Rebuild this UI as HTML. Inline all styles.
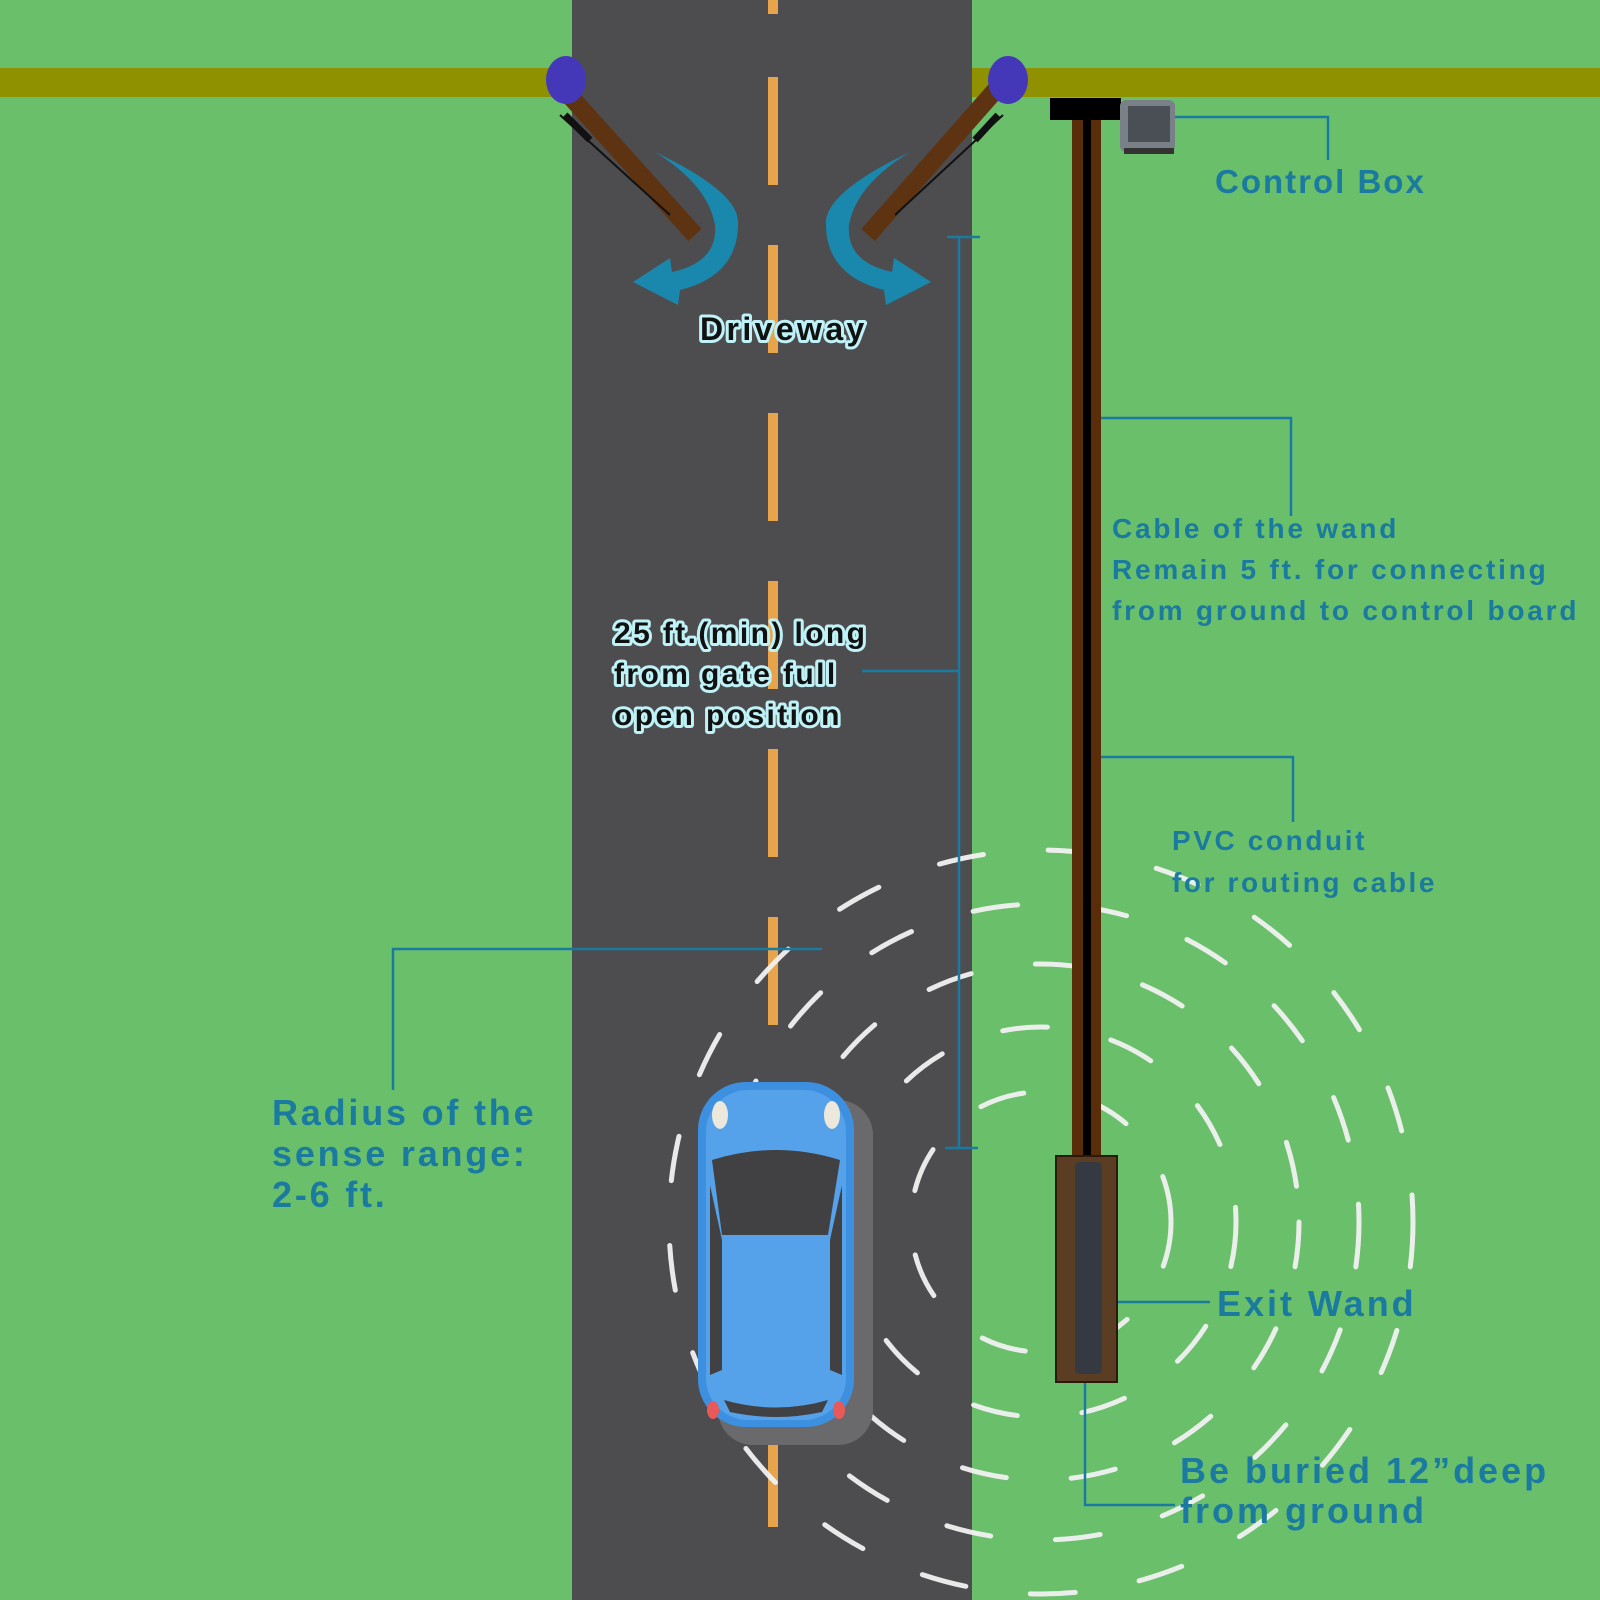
<!DOCTYPE html>
<html><head><meta charset="utf-8"><style>
html,body{margin:0;padding:0;width:1600px;height:1600px;overflow:hidden;background:#6abf6b}
svg{display:block}
text{font-family:"Liberation Sans",sans-serif;font-weight:bold}
</style></head><body>
<svg width="1600" height="1600" viewBox="0 0 1600 1600" xmlns="http://www.w3.org/2000/svg">
<rect width="1600" height="1600" fill="#6abf6b"/>
<rect x="572" y="0" width="400" height="1600" fill="#4d4d4f"/>
<rect x="0" y="68" width="572" height="29" fill="#8f9100"/>
<rect x="972" y="68" width="628" height="29" fill="#8f9100"/>
<g fill="#e8a44a">
<rect x="768" y="0" width="10" height="14"/>
<rect x="768" y="77" width="10" height="108"/>
<rect x="768" y="245" width="10" height="108"/>
<rect x="768" y="413" width="10" height="108"/>
<rect x="768" y="581" width="10" height="108"/>
<rect x="768" y="749" width="10" height="108"/>
<rect x="768" y="917" width="10" height="108"/>
<rect x="768" y="1085" width="10" height="108"/>
<rect x="768" y="1419" width="10" height="108"/>
</g>
<!-- sense rings -->
<g fill="none" stroke="#f2f2f2" stroke-width="5" stroke-linecap="round" stroke-dasharray="45 65" opacity="0.95">
<circle cx="1041" cy="1222" r="130"/>
<circle cx="1041" cy="1222" r="195"/>
<circle cx="1041" cy="1222" r="258"/>
<circle cx="1041" cy="1222" r="318"/>
<circle cx="1041" cy="1222" r="372"/>
</g>
<!-- gates -->
<line x1="560" y1="85" x2="695" y2="235" stroke="#5e3311" stroke-width="18"/>
<line x1="1000" y1="85" x2="868" y2="235" stroke="#5e3311" stroke-width="18"/>
<line x1="560" y1="115" x2="670" y2="215" stroke="#111" stroke-width="2"/>
<line x1="565" y1="115" x2="590" y2="140" stroke="#111" stroke-width="7"/>
<line x1="1003" y1="115" x2="895" y2="215" stroke="#111" stroke-width="2"/>
<line x1="998" y1="115" x2="975" y2="140" stroke="#111" stroke-width="7"/>
<ellipse cx="566" cy="80" rx="20" ry="24" fill="#4438b8"/>
<ellipse cx="1008" cy="80" rx="20" ry="24" fill="#4438b8"/>
<!-- curved arrows -->
<path d="M655 152 Q735 190 738 220 Q740 275 680 290 L678 305 L633 282 L670 258 L672 272 Q718 262 715 225 Q708 185 655 152Z" fill="#1a87ad"/>
<path d="M910 152 Q830 190 826 220 Q824 275 884 290 L886 305 L931 282 L894 258 L892 272 Q846 262 849 225 Q856 185 910 152Z" fill="#1a87ad"/>
<!-- dimension line -->
<g stroke="#1a7aa0" stroke-width="2.5" fill="none">
<line x1="947" y1="237" x2="980" y2="237"/>
<line x1="959" y1="237" x2="959" y2="1148"/>
<line x1="945" y1="1148" x2="978" y2="1148"/>
<line x1="862" y1="671" x2="959" y2="671"/>
<polyline points="822,949 393,949 393,1090"/>
<polyline points="1090,418 1291,418 1291,516"/>
<polyline points="1100,757 1293,757 1293,822"/>
<polyline points="1170,117 1328,117 1328,160"/>
<line x1="1092" y1="1302" x2="1210" y2="1302"/>
<polyline points="1085,1365 1085,1505 1175,1505"/>
</g>
<!-- car shadow -->
<rect x="718" y="1100" width="155" height="345" rx="35" fill="#6a6a6c"/>
<!-- car -->
<rect x="698" y="1082" width="156" height="345" rx="48" fill="#3d8fe0"/>
<rect x="706" y="1090" width="140" height="330" rx="42" fill="#56a2ea"/>
<path d="M712 1160 Q776 1140 840 1160 L828 1235 L722 1235Z" fill="#414144"/>
<path d="M710 1185 L722 1240 L722 1370 L710 1375Z" fill="#414144"/>
<path d="M842 1185 L830 1240 L830 1370 L842 1375Z" fill="#414144"/>
<path d="M724 1400 Q776 1415 828 1400 L822 1412 Q776 1422 730 1412Z" fill="#414144"/>
<ellipse cx="720" cy="1115" rx="8" ry="14" fill="#ece8dc"/>
<ellipse cx="832" cy="1115" rx="8" ry="14" fill="#ece8dc"/>
<ellipse cx="713" cy="1410" rx="6" ry="9" fill="#e85a5a"/>
<ellipse cx="839" cy="1410" rx="6" ry="9" fill="#e85a5a"/>
<!-- conduit & post -->
<rect x="1050" y="98" width="71" height="22" fill="#000"/>
<rect x="1072" y="120" width="29" height="1040" fill="#5a2d0a"/>
<rect x="1083" y="120" width="8" height="1040" fill="#000"/>
<rect x="1120" y="100" width="55" height="52" rx="6" fill="#7a8088"/>
<rect x="1128" y="106" width="42" height="36" fill="#4a4e55"/>
<rect x="1124" y="148" width="50" height="6" fill="#333"/>
<!-- soil -->
<rect x="1056" y="1156" width="61" height="226" fill="#5a3d22"/>
<rect x="1056" y="1156" width="61" height="226" fill="none" stroke="#2b1a0a" stroke-width="2"/>
<rect x="1075" y="1162" width="27" height="212" rx="5" fill="#343942"/>
<!-- labels -->
<g fill="#1a7aa0">
<text x="1215" y="193" font-size="33" letter-spacing="2">Control Box</text>
<text x="1112" y="538" font-size="28" letter-spacing="2.8">Cable of the wand</text>
<text x="1112" y="579" font-size="28" letter-spacing="2.8">Remain 5 ft. for connecting</text>
<text x="1112" y="620" font-size="28" letter-spacing="2.8">from ground to control board</text>
<text x="1172" y="850" font-size="28" letter-spacing="2.6">PVC conduit</text>
<text x="1172" y="892" font-size="28" letter-spacing="2.6">for routing cable</text>
<text x="1217" y="1316" font-size="36" letter-spacing="3">Exit Wand</text>
<text x="1180" y="1483" font-size="36" letter-spacing="3">Be buried 12”deep</text>
<text x="1180" y="1523" font-size="36" letter-spacing="3">from ground</text>
<text x="272" y="1125" font-size="36" letter-spacing="2.8">Radius of the</text>
<text x="272" y="1166" font-size="36" letter-spacing="2.8">sense range:</text>
<text x="272" y="1207" font-size="36" letter-spacing="2.8">2-6 ft.</text>
</g>
<g font-size="30" fill="#111" stroke="#bff2f7" stroke-width="6" paint-order="stroke" stroke-linejoin="round">
<text x="700" y="340" font-size="32" letter-spacing="3.4">Driveway</text>
<text x="614" y="643" letter-spacing="2.4">25 ft.(min) long</text>
<text x="614" y="684" letter-spacing="2.4">from gate full</text>
<text x="614" y="725" letter-spacing="2.4">open position</text>
</g>
</svg>
</body></html>
